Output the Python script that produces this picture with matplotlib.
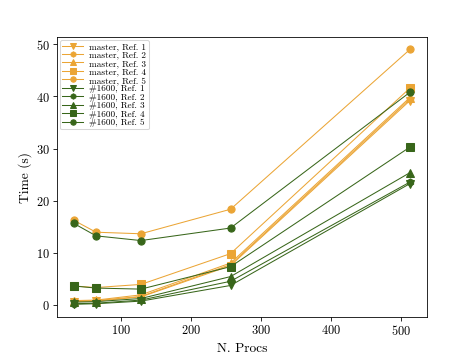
import matplotlib
matplotlib.use("Agg")
import matplotlib.pyplot as plt

plt.rcParams['font.family'] = 'serif'
plt.rcParams['font.serif'] = ['cmr10', 'DejaVu Serif']
plt.rcParams['mathtext.fontset'] = 'cm'
plt.rcParams['axes.formatter.use_mathtext'] = True

procs = [32, 64, 128, 256, 512]

master_ref1 = [0.7, 0.8, 1.6, 7.6, 39.2]
master_ref2 = [0.8, 0.9, 1.7, 7.8, 39.5]
master_ref3 = [0.9, 1.0, 2.0, 8.1, 39.8]
master_ref4 = [3.7, 3.4, 4.0, 9.9, 41.6]
master_ref5 = [16.3, 14.0, 13.7, 18.4, 49.0]

pr_ref1 = [0.2, 0.3, 0.8, 3.8, 23.3]
pr_ref2 = [0.3, 0.4, 1.0, 4.6, 23.6]
pr_ref3 = [0.6, 0.7, 1.3, 5.5, 25.4]
pr_ref4 = [3.7, 3.3, 3.1, 7.4, 30.3]
pr_ref5 = [15.7, 13.3, 12.4, 14.8, 40.8]

master_labels = ['master, Ref. 1', 'master, Ref. 2', 'master, Ref. 3', 'master, Ref. 4', 'master, Ref. 5']
pr_labels = ['#1600, Ref. 1', '#1600, Ref. 2', '#1600, Ref. 3', '#1600, Ref. 4', '#1600, Ref. 5']
markers = ['v', 'h', '^', 's', 'o']

orange = '#EBA535'
green = '#38661A'

fig = plt.figure(figsize=(6.4, 4.8), dpi=74)
ax = fig.add_axes([0.12, 0.107, 0.781, 0.789])

for vals, lab, m in zip([master_ref1, master_ref2, master_ref3, master_ref4, master_ref5], master_labels, markers):
    ax.plot(procs, vals, marker=m, color=orange, label=lab, lw=1.0, markersize=7)
for vals, lab, m in zip([pr_ref1, pr_ref2, pr_ref3, pr_ref4, pr_ref5], pr_labels, markers):
    ax.plot(procs, vals, marker=m, color=green, label=lab, lw=1.0, markersize=7)

ax.set_xlabel('N. Procs', fontsize=13)
ax.set_ylabel('Time (s)', fontsize=13)
ax.tick_params(labelsize=12)
ax.set_xticks([100, 200, 300, 400, 500])
ax.set_yticks([0, 10, 20, 30, 40, 50])
ax.legend(loc='upper left', fontsize=9, labelspacing=0.0, borderpad=0.25,
          handlelength=2.2, markerscale=0.75, handletextpad=0.7,
          borderaxespad=0.35)

fig.savefig('out.png', dpi=74)
